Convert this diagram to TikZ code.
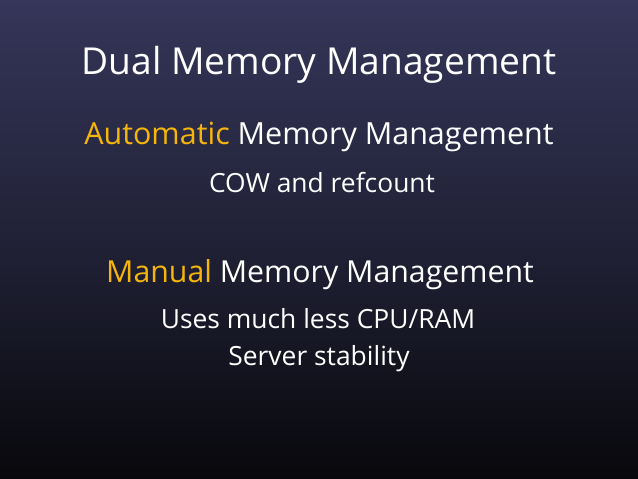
\documentclass[tikz,border=0pt]{standalone}
\usepackage{fontspec}
\setmainfont{Open Sans}
\definecolor{topc}{HTML}{353659}
\definecolor{botc}{HTML}{08080C}
\definecolor{accent}{HTML}{F5B50A}
\begin{document}
\begin{tikzpicture}[x=1bp,y=-1bp,
  txt/.style={text=white,inner sep=0pt,anchor=base},
  hl/.style={text=accent}]
\shade[top color=topc,bottom color=botc,middle color=topc!55!botc] (0,0) rectangle (638,479);
\useasboundingbox (0,0) rectangle (638,479);
\node[txt,font=\fontsize{37.3}{40}\selectfont] (title) at (319,75) {Dual Memory Management};
\node[txt,font=\fontsize{30.6}{34}\selectfont] (auto) at (319,145) {\textcolor{accent}{Automatic} Memory Management};
\node[txt,font=\fontsize{26.5}{30}\selectfont] (cow) at (322,193) {COW and refcount};
\node[txt,font=\fontsize{30.4}{34}\selectfont] (manual) at (320,282) {\textcolor{accent}{Manual} Memory Management};
\node[txt,font=\fontsize{26.5}{30}\selectfont] (uses) at (318,328) {Uses much less CPU/RAM};
\node[txt,font=\fontsize{26.5}{30}\selectfont] (server) at (319,365) {Server stability};
\end{tikzpicture}
\end{document}
